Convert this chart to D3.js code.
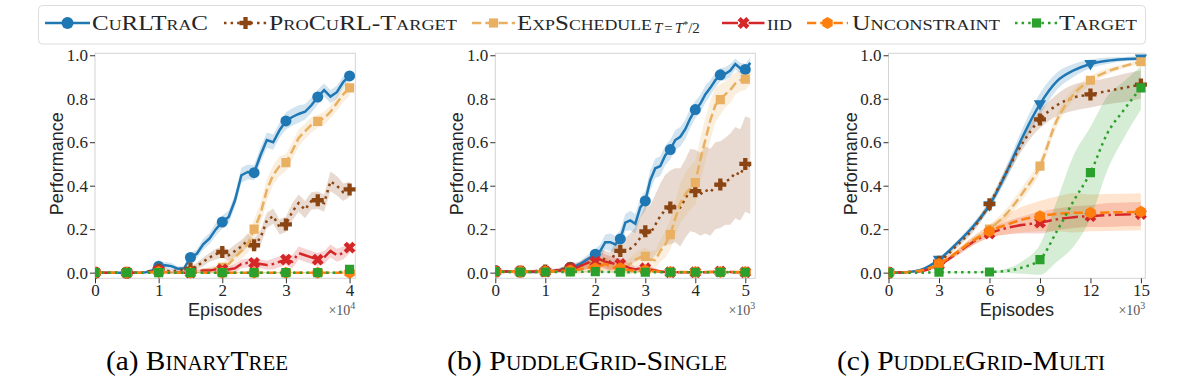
<!DOCTYPE html>
<html>
<head>
<meta charset="utf-8">
<script src="https://cdn.jsdelivr.net/npm/d3@7"></script>
<style>
  body { margin: 0; background: #fff; }
  svg { display: block; }
</style>
</head>
<body>
<svg id="chart"></svg>
<script>
const width = 1189;
const height = 387;

// ---- data -------------------------------------------------------------
const seriesNames = ["CuRLTraC", "ProCuRL-Target", "ExpSchedule", "iid", "Unconstraint", "Target"];

// (a) BinaryTree, episodes x 10^4
const btEpisodes = [0, 0.1, 0.2, 0.3, 0.4, 0.5, 0.6, 0.7, 0.8, 0.9,
  1.0, 1.1, 1.2, 1.3, 1.4, 1.5, 1.6, 1.7, 1.8, 1.9,
  2.0, 2.1, 2.2, 2.3, 2.4, 2.5, 2.6, 2.7, 2.8, 2.9,
  3.0, 3.1, 3.2, 3.3, 3.4, 3.5, 3.6, 3.7, 3.8, 3.9,
  4.0];
const btCurl = [0, 0, 0, 0, 0, 0, 0, 0, 0.002, 0.01,
  0.03, 0.034, 0.03, 0.018, 0.02, 0.07, 0.087, 0.13, 0.157, 0.2,
  0.233, 0.256, 0.333, 0.448, 0.463, 0.46, 0.54, 0.61, 0.6, 0.655,
  0.698, 0.716, 0.73, 0.74, 0.77, 0.808, 0.84, 0.81, 0.83, 0.877,
  0.905];
const btCurlSd = [0, 0, 0, 0, 0, 0, 0, 0, 0.003, 0.01,
  0.015, 0.015, 0.015, 0.01, 0.01, 0.02, 0.02, 0.025, 0.025, 0.03,
  0.03, 0.03, 0.03, 0.035, 0.035, 0.035, 0.035, 0.035, 0.035, 0.035,
  0.04, 0.04, 0.04, 0.035, 0.035, 0.035, 0.03, 0.03, 0.03, 0.025,
  0.02];
const btProcurl = [0, 0, 0, 0, 0, 0, 0, 0, 0.003, 0.01,
  0.015, 0.01, 0.005, 0.01, 0.015, 0.018, 0.03, 0.05, 0.07, 0.085,
  0.095, 0.08, 0.1, 0.12, 0.15, 0.126, 0.16, 0.24, 0.26, 0.21,
  0.222, 0.28, 0.32, 0.29, 0.33, 0.333, 0.32, 0.42, 0.4, 0.37,
  0.383];
const btProcurlSd = [0, 0, 0, 0, 0, 0, 0, 0, 0.003, 0.005,
  0.01, 0.01, 0.01, 0.01, 0.01, 0.01, 0.015, 0.02, 0.02, 0.025,
  0.025, 0.025, 0.03, 0.03, 0.03, 0.03, 0.035, 0.035, 0.035, 0.035,
  0.035, 0.04, 0.04, 0.04, 0.04, 0.04, 0.04, 0.045, 0.045, 0.04,
  0.035];
const btExp = [0, 0, 0, 0, 0, 0, 0, 0, 0.002, 0.003,
  0.005, 0.003, 0.002, 0, 0, 0, 0.005, 0.01, 0.015, 0.02,
  0.025, 0.04, 0.07, 0.1, 0.13, 0.2, 0.27, 0.38, 0.45, 0.49,
  0.506, 0.56, 0.62, 0.65, 0.68, 0.696, 0.71, 0.74, 0.78, 0.82,
  0.85];
const btExpSd = [0, 0, 0, 0, 0, 0, 0, 0, 0.002, 0.003,
  0.005, 0.005, 0.005, 0.005, 0.005, 0.005, 0.008, 0.01, 0.012, 0.015,
  0.02, 0.025, 0.03, 0.035, 0.04, 0.045, 0.05, 0.05, 0.045, 0.045,
  0.04, 0.04, 0.04, 0.035, 0.035, 0.03, 0.03, 0.03, 0.035, 0.035,
  0.035];
const btIid = [0, 0, 0, 0, 0, 0, 0, 0, 0.002, 0.005,
  0.01, 0.005, 0, 0, 0, 0, 0.005, 0.01, 0.01, 0.015,
  0.015, 0.015, 0.02, 0.04, 0.045, 0.045, 0.04, 0.035, 0.04, 0.05,
  0.06, 0.05, 0.09, 0.08, 0.07, 0.06, 0.07, 0.1, 0.08, 0.09,
  0.115];
const btIidSd = [0, 0, 0, 0, 0, 0, 0, 0, 0.002, 0.004,
  0.005, 0.005, 0.005, 0.005, 0.005, 0.005, 0.008, 0.01, 0.01, 0.012,
  0.015, 0.015, 0.02, 0.02, 0.02, 0.02, 0.02, 0.02, 0.025, 0.025,
  0.025, 0.03, 0.03, 0.03, 0.03, 0.03, 0.03, 0.03, 0.03, 0.03,
  0.025];
const btUncon = [0, 0, 0, 0, 0, 0, 0, 0, 0, 0.002,
  0.003, 0.002, 0, 0, 0, 0, 0, 0, 0, 0,
  0, 0, 0, 0, 0, 0, 0, 0, 0, 0,
  0, 0, 0, 0, 0, 0, 0, 0, 0, 0,
  0];
const btUnconSd = [0.002, 0.002, 0.002, 0.002, 0.002, 0.002, 0.002, 0.002, 0.002, 0.003,
  0.003, 0.003, 0.003, 0.003, 0.003, 0.003, 0.003, 0.003, 0.003, 0.003,
  0.003, 0.003, 0.003, 0.003, 0.003, 0.003, 0.003, 0.003, 0.003, 0.003,
  0.003, 0.003, 0.003, 0.003, 0.003, 0.003, 0.003, 0.003, 0.003, 0.003,
  0.003];
const btTarget = [0, 0, 0, 0, 0, 0, 0, 0, 0, 0,
  0, 0, 0, 0, 0, 0, 0, 0, 0, 0,
  0, 0, 0, 0, 0, 0, 0, 0, 0, 0,
  0, 0, 0, 0, 0, 0, 0, 0, 0, 0.005,
  0.015];
const btTargetSd = [0.002, 0.002, 0.002, 0.002, 0.002, 0.002, 0.002, 0.002, 0.002, 0.002,
  0.003, 0.003, 0.003, 0.003, 0.003, 0.003, 0.003, 0.003, 0.003, 0.003,
  0.003, 0.003, 0.003, 0.003, 0.003, 0.003, 0.003, 0.003, 0.003, 0.003,
  0.003, 0.003, 0.003, 0.003, 0.003, 0.003, 0.003, 0.003, 0.003, 0.004,
  0.005];

// (b) PuddleGrid-Single, episodes x 10^3
const psEpisodes = [0, 0.1, 0.2, 0.3, 0.4, 0.5, 0.6, 0.7, 0.8, 0.9,
  1.0, 1.1, 1.2, 1.3, 1.4, 1.5, 1.6, 1.7, 1.8, 1.9,
  2.0, 2.1, 2.2, 2.3, 2.4, 2.5, 2.6, 2.7, 2.8, 2.9,
  3.0, 3.1, 3.2, 3.3, 3.4, 3.5, 3.6, 3.7, 3.8, 3.9,
  4.0, 4.1, 4.2, 4.3, 4.4, 4.5, 4.6, 4.7, 4.8, 4.9,
  5.0, 5.1];
const psCurl = [0.01, 0.008, 0.006, 0.005, 0.005, 0.005, 0.004, 0.003, 0.003, 0.004,
  0.005, 0.006, 0.008, 0.012, 0.02, 0.025, 0.03, 0.04, 0.055, 0.07,
  0.085, 0.1, 0.14, 0.14, 0.13, 0.155, 0.23, 0.24, 0.225, 0.3,
  0.33, 0.425, 0.48, 0.49, 0.54, 0.566, 0.61, 0.625, 0.66, 0.71,
  0.75, 0.777, 0.82, 0.85, 0.885, 0.91, 0.915, 0.93, 0.96, 0.94,
  0.935, 0.965];
const psCurlSd = [0.005, 0.005, 0.005, 0.005, 0.005, 0.005, 0.005, 0.005, 0.005, 0.005,
  0.005, 0.005, 0.006, 0.008, 0.01, 0.01, 0.012, 0.015, 0.018, 0.02,
  0.025, 0.03, 0.035, 0.04, 0.04, 0.04, 0.04, 0.045, 0.045, 0.045,
  0.045, 0.045, 0.045, 0.045, 0.045, 0.045, 0.045, 0.045, 0.045, 0.045,
  0.04, 0.04, 0.04, 0.035, 0.035, 0.03, 0.03, 0.03, 0.025, 0.025,
  0.025, 0.025];
const psProcurl = [0.005, 0.005, 0.005, 0.005, 0.005, 0.005, 0.006, 0.007, 0.008, 0.009,
  0.01, 0.012, 0.01, 0.015, 0.02, 0.02, 0.025, 0.03, 0.04, 0.045,
  0.04, 0.07, 0.06, 0.05, 0.09, 0.1, 0.1, 0.11, 0.13, 0.16,
  0.19, 0.18, 0.22, 0.26, 0.29, 0.3, 0.31, 0.3, 0.34, 0.38,
  0.375, 0.36, 0.38, 0.37, 0.4, 0.405, 0.42, 0.43, 0.46, 0.45,
  0.5, 0.49];
const psProcurlSd = [0.005, 0.005, 0.005, 0.005, 0.005, 0.005, 0.005, 0.005, 0.005, 0.005,
  0.006, 0.007, 0.008, 0.01, 0.012, 0.015, 0.02, 0.02, 0.025, 0.03,
  0.035, 0.04, 0.04, 0.045, 0.05, 0.055, 0.06, 0.07, 0.08, 0.1,
  0.12, 0.13, 0.14, 0.15, 0.16, 0.17, 0.17, 0.18, 0.18, 0.19,
  0.19, 0.19, 0.2, 0.2, 0.2, 0.2, 0.2, 0.21, 0.21, 0.21,
  0.22, 0.22];
const psExp = [0.003, 0.003, 0.003, 0.003, 0.003, 0.003, 0.003, 0.003, 0.003, 0.003,
  0.003, 0.004, 0.005, 0.006, 0.008, 0.01, 0.015, 0.02, 0.03, 0.04,
  0.04, 0.05, 0.05, 0.03, 0.02, 0.02, 0.025, 0.04, 0.06, 0.07,
  0.075, 0.06, 0.057, 0.1, 0.13, 0.175, 0.25, 0.32, 0.36, 0.39,
  0.414, 0.52, 0.61, 0.7, 0.77, 0.796, 0.82, 0.84, 0.87, 0.885,
  0.89, 0.915];
const psExpSd = [0.004, 0.004, 0.004, 0.004, 0.004, 0.004, 0.004, 0.004, 0.004, 0.004,
  0.004, 0.004, 0.004, 0.004, 0.004, 0.006, 0.008, 0.01, 0.012, 0.015,
  0.02, 0.02, 0.02, 0.02, 0.02, 0.02, 0.025, 0.03, 0.03, 0.035,
  0.04, 0.04, 0.045, 0.05, 0.06, 0.07, 0.08, 0.09, 0.1, 0.1,
  0.1, 0.1, 0.1, 0.09, 0.08, 0.07, 0.06, 0.06, 0.05, 0.05,
  0.05, 0.05];
const psIid = [0.005, 0.005, 0.005, 0.005, 0.005, 0.005, 0.005, 0.005, 0.005, 0.005,
  0.005, 0.005, 0.01, 0.01, 0.015, 0.02, 0.02, 0.03, 0.04, 0.05,
  0.05, 0.06, 0.05, 0.045, 0.04, 0.04, 0.03, 0.02, 0.015, 0.02,
  0.02, 0.015, 0.01, 0.005, 0.003, 0.002, 0.002, 0.002, 0.002, 0.002,
  0.002, 0.002, 0.002, 0.003, 0.004, 0.005, 0.004, 0.003, 0.002, 0.002,
  0.002, 0.002];
const psIidSd = [0.004, 0.004, 0.004, 0.004, 0.004, 0.004, 0.004, 0.004, 0.004, 0.004,
  0.004, 0.005, 0.006, 0.008, 0.01, 0.012, 0.015, 0.02, 0.025, 0.03,
  0.03, 0.035, 0.035, 0.03, 0.03, 0.025, 0.02, 0.02, 0.015, 0.015,
  0.015, 0.012, 0.01, 0.008, 0.006, 0.005, 0.005, 0.005, 0.005, 0.005,
  0.005, 0.005, 0.005, 0.005, 0.005, 0.005, 0.005, 0.005, 0.005, 0.005,
  0.005, 0.005];
const psUncon = [0.005, 0.005, 0.005, 0.005, 0.005, 0.005, 0.005, 0.005, 0.005, 0.005,
  0.005, 0.005, 0.006, 0.007, 0.008, 0.01, 0.01, 0.015, 0.02, 0.025,
  0.02, 0.03, 0.04, 0.03, 0.02, 0.02, 0.015, 0.01, 0.01, 0.01,
  0.01, 0.008, 0.006, 0.005, 0.004, 0.003, 0.003, 0.003, 0.003, 0.003,
  0.003, 0.003, 0.003, 0.003, 0.003, 0.003, 0.003, 0.003, 0.003, 0.003,
  0.003, 0.003];
const psUnconSd = [0.004, 0.004, 0.004, 0.004, 0.004, 0.004, 0.004, 0.004, 0.004, 0.004,
  0.004, 0.005, 0.006, 0.008, 0.01, 0.012, 0.015, 0.02, 0.02, 0.025,
  0.025, 0.03, 0.03, 0.03, 0.025, 0.02, 0.02, 0.015, 0.012, 0.01,
  0.01, 0.008, 0.006, 0.005, 0.005, 0.005, 0.005, 0.005, 0.005, 0.005,
  0.005, 0.005, 0.005, 0.005, 0.005, 0.005, 0.005, 0.005, 0.005, 0.005,
  0.005, 0.005];
const psTarget = [0.005, 0.004, 0.003, 0.003, 0.003, 0.003, 0.003, 0.003, 0.003, 0.003,
  0.003, 0.003, 0.003, 0.003, 0.003, 0.003, 0.004, 0.004, 0.005, 0.005,
  0.005, 0.004, 0.003, 0.003, 0.003, 0.002, 0.002, 0.002, 0.002, 0.002,
  0.002, 0.002, 0.002, 0.002, 0.002, 0.002, 0.002, 0.002, 0.002, 0.002,
  0.002, 0.002, 0.002, 0.002, 0.002, 0.002, 0.002, 0.002, 0.002, 0.002,
  0.002, 0.002];
const psTargetSd = [0.003, 0.003, 0.003, 0.003, 0.003, 0.003, 0.003, 0.003, 0.003, 0.003,
  0.003, 0.003, 0.003, 0.003, 0.003, 0.003, 0.003, 0.003, 0.003, 0.003,
  0.003, 0.003, 0.003, 0.003, 0.003, 0.003, 0.003, 0.003, 0.003, 0.003,
  0.003, 0.003, 0.003, 0.003, 0.003, 0.003, 0.003, 0.003, 0.003, 0.003,
  0.003, 0.003, 0.003, 0.003, 0.003, 0.003, 0.003, 0.003, 0.003, 0.003,
  0.003, 0.003];

// (c) PuddleGrid-Multi, episodes x 10^3
const pmEpisodes = [0, 1, 2, 3, 4, 5, 6, 7, 8, 9, 10, 11, 12, 13, 14, 15];
const pmCurl = [0, 0.002, 0.015, 0.06, 0.13, 0.21, 0.31, 0.46, 0.63, 0.775, 0.88, 0.93, 0.96, 0.975, 0.982, 0.985];
const pmCurlSd = [0, 0.002, 0.004, 0.008, 0.012, 0.016, 0.02, 0.03, 0.04, 0.05, 0.04, 0.03, 0.02, 0.015, 0.01, 0.01];
const pmProcurl = [0, 0.002, 0.013, 0.05, 0.12, 0.2, 0.315, 0.46, 0.6, 0.705, 0.77, 0.805, 0.82, 0.835, 0.85, 0.865];
const pmProcurlSd = [0, 0.002, 0.004, 0.008, 0.012, 0.016, 0.02, 0.025, 0.03, 0.04, 0.05, 0.06, 0.06, 0.06, 0.065, 0.065];
const pmExp = [0, 0.002, 0.01, 0.04, 0.09, 0.15, 0.2, 0.27, 0.37, 0.49, 0.7, 0.82, 0.885, 0.925, 0.95, 0.97];
const pmExpSd = [0, 0.002, 0.004, 0.008, 0.012, 0.015, 0.02, 0.025, 0.03, 0.03, 0.03, 0.025, 0.02, 0.015, 0.01, 0.01];
const pmIid = [0, 0.002, 0.008, 0.035, 0.085, 0.14, 0.18, 0.205, 0.22, 0.23, 0.245, 0.255, 0.26, 0.265, 0.268, 0.27];
const pmIidSd = [0, 0.002, 0.004, 0.008, 0.012, 0.016, 0.02, 0.03, 0.04, 0.05, 0.05, 0.05, 0.05, 0.055, 0.055, 0.055];
const pmUncon = [0, 0.002, 0.01, 0.04, 0.09, 0.145, 0.19, 0.22, 0.245, 0.26, 0.27, 0.275, 0.275, 0.277, 0.278, 0.28];
const pmUnconSd = [0, 0.002, 0.004, 0.008, 0.012, 0.02, 0.03, 0.045, 0.06, 0.07, 0.08, 0.09, 0.085, 0.085, 0.085, 0.085];
const pmTarget = [0, 0, 0, 0.002, 0.002, 0.002, 0.003, 0.008, 0.025, 0.06, 0.19, 0.33, 0.46, 0.64, 0.75, 0.85];
const pmTargetSd = [0, 0, 0, 0.002, 0.002, 0.002, 0.003, 0.01, 0.03, 0.07, 0.14, 0.21, 0.21, 0.17, 0.13, 0.1];

const yTicks = [0, 0.2, 0.4, 0.6, 0.8, 1.0];
const btTicks = [0, 1, 2, 3, 4];
const psTicks = [0, 1, 2, 3, 4, 5];
const pmTicks = [0, 3, 6, 9, 12, 15];
const captions = [["(a) ", "BinaryTree"], ["(b) ", "PuddleGrid-Single"], ["(c) ", "PuddleGrid-Multi"]];

// ---- styles -----------------------------------------------------------
const colors = ["#1f77b4", "#8b4513", "#e8b060", "#d62728", "#ff7f0e", "#2ca02c"];
const dashes = [null, "2.5,4.1", "9.25,4", "16,4,2.5,4", "9.25,4", "2.5,4.1"];
const markers = ["circle", "plus", "square", "x", "hexagon", "square"];

const serif = "'Liberation Serif', 'Times New Roman', serif";
const sans = "'Liberation Sans', Arial, sans-serif";

const svg = d3.select("#chart").attr("width", width).attr("height", height);
svg.append("rect").attr("width", width).attr("height", height).attr("fill", "#fff");

function markerPath(type, r) {
  if (type === "circle") return d3.symbol(d3.symbolCircle, Math.PI * r * r)();
  if (type === "square") {
    const s = r * 0.88;
    return `M${-s},${-s}H${s}V${s}H${-s}Z`;
  }
  if (type === "triangleDown") {
    return `M0,${r}L${-r * 0.95},${-r * 0.6}L${r * 0.95},${-r * 0.6}Z`;
  }
  if (type === "hexagon") {
    const pts = d3.range(6).map((k) => {
      const a = (-90 + k * 60) * Math.PI / 180;
      return [r * Math.cos(a), r * Math.sin(a)];
    });
    return "M" + pts.join("L") + "Z";
  }
  // plus / x : filled cross
  const w = r * 0.36;
  let pts = [[-w, -r], [w, -r], [w, -w], [r, -w], [r, w], [w, w], [w, r], [-w, r], [-w, w], [-r, w], [-r, -w], [-w, -w]];
  if (type === "x") {
    const c = Math.SQRT1_2;
    pts = pts.map(([x, y]) => [(x - y) * c, (x + y) * c]);
  }
  return "M" + pts.join("L") + "Z";
}
const markerSize = { circle: 5.5, square: 5.2, plus: 6, x: 6.2, hexagon: 6, triangleDown: 6.5 };

const panels = [
  { x: btEpisodes, ys: [btCurl, btProcurl, btExp, btIid, btUncon, btTarget],
    sds: [btCurlSd, btProcurlSd, btExpSd, btIidSd, btUnconSd, btTargetSd],
    left: 95, right: 355.3, xlim: 4.09, ticks: btTicks, exp: "4", step: 0.5,
    curve: d3.curveLinear, firstMarker: "circle", caption: 197, capLen: 182 },
  { x: psEpisodes, ys: [psCurl, psProcurl, psExp, psIid, psUncon, psTarget],
    sds: [psCurlSd, psProcurlSd, psExpSd, psIidSd, psUnconSd, psTargetSd],
    left: 495.3, right: 755.3, xlim: 5.2, ticks: psTicks, exp: "3", step: 0.5,
    curve: d3.curveLinear, firstMarker: "circle", caption: 587, capLen: 280 },
  { x: pmEpisodes, ys: [pmCurl, pmProcurl, pmExp, pmIid, pmUncon, pmTarget],
    sds: [pmCurlSd, pmProcurlSd, pmExpSd, pmIidSd, pmUnconSd, pmTargetSd],
    left: 888.5, right: 1145.3, xlim: 15.26, ticks: pmTicks, exp: "3", step: 3,
    curve: d3.curveMonotoneX, firstMarker: "triangleDown", caption: 971, capLen: 268 }
];

const plotTop = 53.3, plotBottom = 278.3;
const yScale = d3.scaleLinear().domain([-0.026, 1.009]).range([plotBottom, plotTop]);

panels.forEach((p) => {
  const xScale = d3.scaleLinear().domain([0, p.xlim]).range([p.left, p.right]);
  const g = svg.append("g");

  g.append("rect")
    .attr("x", p.left).attr("y", plotTop)
    .attr("width", p.right - p.left).attr("height", plotBottom - plotTop)
    .attr("fill", "none").attr("stroke", "#d4d4d4").attr("stroke-width", 1);

  const clipId = "clip" + Math.round(p.left);
  svg.append("clipPath").attr("id", clipId).append("rect")
    .attr("x", p.left).attr("y", plotTop - 8).attr("width", p.right - p.left + 8).attr("height", plotBottom - plotTop + 16);

  const plot = g.append("g").attr("clip-path", `url(#${clipId})`);

  // bands
  p.ys.forEach((ys, i) => {
    const rows = p.x.map((x, j) => ({ x, y: ys[j], sd: p.sds[i][j] }));
    const area = d3.area().curve(p.curve)
      .x((d) => xScale(d.x))
      .y0((d) => yScale(d.y - d.sd))
      .y1((d) => yScale(d.y + d.sd));
    plot.append("path").attr("d", area(rows))
      .attr("fill", colors[i]).attr("fill-opacity", 0.2);
  });

  // lines + markers
  p.ys.forEach((ys, i) => {
    const rows = p.x.map((x, j) => ({ x, y: ys[j] }));
    const line = d3.line().curve(p.curve).x((d) => xScale(d.x)).y((d) => yScale(d.y));
    plot.append("path").attr("d", line(rows))
      .attr("fill", "none").attr("stroke", colors[i]).attr("stroke-width", 2.5)
      .attr("stroke-dasharray", dashes[i]);
    const type = i === 0 ? p.firstMarker : markers[i];
    const marked = rows.filter((d) => Math.abs(d.x / p.step - Math.round(d.x / p.step)) < 1e-6);
    plot.selectAll(null).data(marked).enter().append("path")
      .attr("transform", (d) => `translate(${xScale(d.x)},${yScale(d.y)})`)
      .attr("d", markerPath(type, markerSize[type]))
      .attr("fill", colors[i]);
  });

  // axes
  const yAxis = g.append("g").attr("transform", `translate(${p.left},0)`)
    .call(d3.axisLeft(yScale).tickValues(yTicks).tickFormat(d3.format(".1f")).tickSize(5).tickPadding(2));
  const xAxis = g.append("g").attr("transform", `translate(0,${plotBottom})`)
    .call(d3.axisBottom(xScale).tickValues(p.ticks).tickFormat(d3.format("d")).tickSize(5).tickPadding(1));
  [yAxis, xAxis].forEach((a) => {
    a.select(".domain").remove();
    a.selectAll(".tick line").attr("stroke", "#333");
    a.selectAll(".tick text").attr("fill", "#262626")
      .style("font-family", serif).style("font-size", "17px");
  });

  g.append("text")
    .attr("x", (p.left + p.right) / 2).attr("y", 316)
    .attr("text-anchor", "middle")
    .style("font-family", sans).style("font-size", "18px").attr("fill", "#262626")
    .text("Episodes");

  g.append("text")
    .attr("transform", `translate(${p.left - 32},${(plotTop + plotBottom) / 2 - 2}) rotate(-90)`)
    .attr("text-anchor", "middle")
    .style("font-family", sans).style("font-size", "18px").attr("fill", "#262626")
    .text("Performance");

  const mult = g.append("text")
    .attr("x", p.right).attr("y", 315)
    .attr("text-anchor", "end")
    .style("font-family", serif).style("font-size", "14px").attr("fill", "#555");
  mult.append("tspan").text("\u00d710");
  mult.append("tspan").attr("dy", -6).style("font-size", "10px").text(p.exp);
});

// captions
panels.forEach((p, k) => {
  const t = svg.append("text")
    .attr("x", p.caption).attr("y", 370)
    .attr("text-anchor", "middle")
    .attr("textLength", p.capLen).attr("lengthAdjust", "spacingAndGlyphs")
    .style("font-family", serif).style("font-size", "28px").attr("fill", "#000");
  t.append("tspan").text(captions[k][0]);
  t.append("tspan").style("font-variant", "small-caps").text(captions[k][1]);
});

// legend
const legendLayout = [
  { line: [45, 90], text: 92, len: 116 },
  { line: [224, 267], text: 269, len: 188 },
  { line: [472, 515], text: 517, len: 135 },
  { line: [722, 765], text: 767, len: 25 },
  { line: [807, 848], text: 852, len: 148 },
  { line: [1015, 1058], text: 1059, len: 78 }
];
const legend = svg.append("g");
legend.append("rect")
  .attr("x", 38.5).attr("y", 5.5).attr("width", 1107).attr("height", 38.5)
  .attr("rx", 4).attr("fill", "#fff").attr("stroke", "#dcdcdc").attr("stroke-width", 1);

seriesNames.forEach((name, i) => {
  const l = legendLayout[i];
  legend.append("line")
    .attr("x1", l.line[0]).attr("x2", l.line[1]).attr("y1", 23).attr("y2", 23)
    .attr("stroke", colors[i]).attr("stroke-width", 2.5)
    .attr("stroke-dasharray", dashes[i]);
  const type = markers[i];
  legend.append("path")
    .attr("transform", `translate(${(l.line[0] + l.line[1]) / 2},23)`)
    .attr("d", markerPath(type, i === 0 ? 6 : markerSize[type]))
    .attr("fill", colors[i]);
  legend.append("text")
    .attr("x", l.text).attr("y", 29.5)
    .attr("textLength", l.len).attr("lengthAdjust", "spacingAndGlyphs")
    .style("font-family", serif).style("font-size", "21px")
    .style("font-variant", "small-caps").attr("fill", "#262626")
    .text(name);
});

// subscript of ExpSchedule
const sub = legend.append("text")
  .attr("x", 654).attr("y", 33)
  .style("font-family", serif).style("font-size", "15px").attr("fill", "#262626");
sub.append("tspan").style("font-style", "italic").text("T");
sub.append("tspan").attr("dx", 2).text("=");
sub.append("tspan").attr("dx", 2).style("font-style", "italic").text("T");
sub.append("tspan").attr("dy", -5).style("font-size", "10px").text("*");
sub.append("tspan").attr("dy", 5).text("/2");
</script>
</body>
</html>
